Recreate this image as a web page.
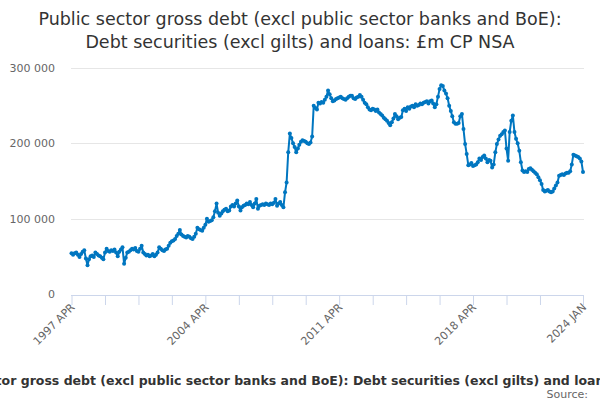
<!DOCTYPE html>
<html>
  <head>
    <meta charset="utf-8" />
    <title>Public sector gross debt</title>
    <script src="https://d3js.org/d3.v7.min.js"></script>
    <style>
      body {
        margin: 0;
        overflow: hidden;
        font-family: "DejaVu Sans", sans-serif;
      }
      .grid line {
        stroke: #e6e6e6;
      }
      .axis text {
        font-size: 11px;
        fill: #666;
      }
    </style>
  </head>
  <body>
    <div id="chart"></div>

    <script>
      // Title lines
      const titleLines = [
        "Public sector gross debt (excl public sector banks and BoE):",
        "Debt securities (excl gilts) and loans: £m CP NSA",
      ];
      const footerText =
        "Public sector gross debt (excl public sector banks and BoE): Debt securities (excl gilts) and loans: £m CP NSA";

      // First month of the series and monthly values (£m), 1997 APR .. 2024 JAN
      const startMonth = "1997-04";
      const values = [
        54000, 52000, 54000, 55000, 52000, 49000, 53000, 56000, 58000, 47000, 38000, 46000,
        50000, 51000, 49000, 55000, 53000, 51000, 50000, 48000, 46000, 55000, 60000, 57000,
        56000, 58000, 57000, 59000, 55000, 50000, 56000, 59000, 62000, 40000, 48000, 55000,
        56000, 58000, 60000, 59000, 61000, 57000, 56000, 60000, 64000, 55000, 53000, 51000,
        52000, 50000, 51000, 53000, 50000, 52000, 55000, 62000, 60000, 58000, 57000, 59000,
        60000, 64000, 68000, 70000, 71000, 73000, 77000, 80000, 85000, 79000, 77000, 76000,
        75000, 77000, 76000, 74000, 73000, 76000, 80000, 88000, 86000, 85000, 84000, 88000,
        92000, 100000, 96000, 97000, 98000, 102000, 110000, 120000, 108000, 104000, 107000, 110000,
        112000, 113000, 110000, 111000, 116000, 118000, 116000, 120000, 124000, 116000, 111000, 115000,
        117000, 118000, 120000, 119000, 122000, 118000, 115000, 120000, 126000, 113000, 117000, 118000,
        119000, 118000, 120000, 119000, 118000, 120000, 119000, 121000, 126000, 117000, 120000, 122000,
        118000, 115000, 135000, 148000, 188000, 213000, 207000, 200000, 195000, 188000, 193000, 198000,
        202000, 204000, 203000, 202000, 200000, 199000, 201000, 209000, 250000, 247000, 245000, 254000,
        253000, 255000, 254000, 258000, 262000, 270000, 265000, 260000, 256000, 257000, 259000, 260000,
        261000, 262000, 260000, 259000, 258000, 260000, 262000, 263000, 263000, 260000, 259000, 261000,
        262000, 264000, 262000, 258000, 254000, 252000, 248000, 245000, 244000, 246000, 245000, 243000,
        245000, 241000, 239000, 237000, 234000, 232000, 230000, 227000, 224000, 228000, 233000, 239000,
        236000, 232000, 234000, 235000, 244000, 246000, 243000, 248000, 246000, 249000, 250000, 248000,
        252000, 250000, 251000, 253000, 252000, 254000, 255000, 256000, 253000, 256000, 257000, 253000,
        248000, 252000, 262000, 272000, 277000, 276000, 270000, 266000, 260000, 250000, 243000, 236000,
        228000, 226000, 226000, 227000, 236000, 239000, 219000, 199000, 186000, 171000, 172000, 174000,
        170000, 171000, 172000, 175000, 180000, 178000, 182000, 184000, 180000, 175000, 178000, 177000,
        168000, 172000, 188000, 199000, 205000, 210000, 212000, 215000, 217000, 193000, 177000, 215000,
        230000, 237000, 215000, 206000, 200000, 190000, 175000, 164000, 162000, 163000, 162000, 166000,
        167000, 165000, 163000, 161000, 159000, 155000, 151000, 146000, 138000, 136000, 137000, 138000,
        136000, 135000, 136000, 140000, 144000, 148000, 157000, 158000, 159000, 158000, 160000, 161000,
        161000, 163000, 172000, 185000, 184000, 183000, 182000, 180000, 176000, 162000,
      ];

      // Axis ticks
      const yTicks = [0, 100000, 200000, 300000];
      const xLabelMonths = ["1997-04", "2004-04", "2011-04", "2018-04", "2024-01"];
      const xTickStepMonths = 21;

      const width = 600;
      const height = 400;
      const margin = { top: 68, right: 17, bottom: 106, left: 71 };

      const parseMonth = d3.timeParse("%Y-%m");
      const fmtLabel = (d) => d3.timeFormat("%Y ")(d) + d3.timeFormat("%b")(d).toUpperCase();
      const fmtY = (v) => d3.format(",")(v).replace(/,/g, " ");

      const start = parseMonth(startMonth);
      const data = values.map((v, i) => ({ date: d3.timeMonth.offset(start, i), value: v }));
      const end = data[data.length - 1].date;

      const svg = d3
        .select("#chart")
        .append("svg")
        .attr("width", width)
        .attr("height", height);

      const x = d3
        .scaleTime()
        .domain([start, end])
        .range([margin.left + 0.5, width - margin.right]);

      const y = d3
        .scaleLinear()
        .domain([0, 300000])
        .range([height - margin.bottom, margin.top]);

      // Title
      svg
        .append("text")
        .attr("x", width / 2)
        .attr("y", 25)
        .attr("text-anchor", "middle")
        .style("font-size", "17.5px")
        .style("fill", "#333")
        .selectAll("tspan")
        .data(titleLines)
        .enter()
        .append("tspan")
        .attr("x", width / 2)
        .attr("dy", (d, i) => (i === 0 ? 0 : 23))
        .text((d) => d);

      // Gridlines
      svg
        .append("g")
        .attr("class", "grid")
        .selectAll("line")
        .data(yTicks.slice(1))
        .enter()
        .append("line")
        .attr("x1", margin.left)
        .attr("x2", width - margin.right + 1)
        .attr("y1", (d) => Math.round(y(d)) + 0.5)
        .attr("y2", (d) => Math.round(y(d)) + 0.5);

      // Y axis labels
      svg
        .append("g")
        .attr("class", "axis")
        .selectAll("text")
        .data(yTicks)
        .enter()
        .append("text")
        .attr("x", 55)
        .attr("y", (d) => y(d) + 4)
        .attr("text-anchor", "end")
        .text(fmtY);

      // X axis
      const tickDates = d3
        .range(0, values.length - 21, xTickStepMonths)
        .map((i) => d3.timeMonth.offset(start, i))
        .concat([end]);

      const xAxis = svg
        .append("g")
        .attr("class", "axis")
        .attr("transform", `translate(0,${Math.round(y(0)) + 1})`)
        .call(
          d3
            .axisBottom(x)
            .tickValues(tickDates)
            .tickSize(10)
            .tickFormat("")
        );
      xAxis.select(".domain").attr("stroke", "#ccd6eb").attr("d", `M${margin.left},0.5H${width - margin.right + 1}`);
      xAxis.selectAll(".tick line").attr("stroke", "#ccd6eb");

      svg
        .append("g")
        .attr("class", "axis")
        .selectAll("text")
        .data(xLabelMonths.map(parseMonth))
        .enter()
        .append("text")
        .attr("text-anchor", "end")
        .attr("transform", (d) => `translate(${x(d) + 4},${y(0) + 14}) rotate(-45)`)
        .text(fmtLabel);

      // Line
      const line = d3
        .line()
        .x((d) => x(d.date))
        .y((d) => y(d.value));

      svg
        .append("path")
        .datum(data)
        .attr("fill", "none")
        .attr("stroke", "#0076c0")
        .attr("stroke-width", 2)
        .attr("stroke-linejoin", "round")
        .attr("d", line);

      svg
        .append("g")
        .selectAll("circle")
        .data(data)
        .enter()
        .append("circle")
        .attr("cx", (d) => x(d.date))
        .attr("cy", (d) => y(d.value))
        .attr("r", 2)
        .attr("fill", "#0076c0");

      // Footer
      svg
        .append("text")
        .attr("x", 312)
        .attr("y", 385)
        .attr("text-anchor", "middle")
        .style("font-size", "12.5px")
        .style("font-weight", "bold")
        .style("fill", "#333")
        .text(footerText);

      svg
        .append("text")
        .attr("x", 588)
        .attr("y", 398)
        .attr("text-anchor", "end")
        .style("font-size", "11px")
        .style("fill", "#666")
        .text("Source:");
    </script>
  </body>
</html>
